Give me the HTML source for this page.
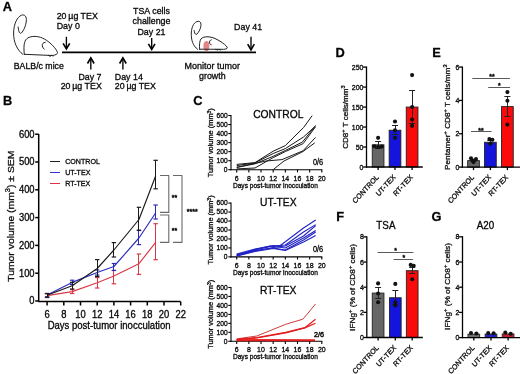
<!DOCTYPE html>
<html><head><meta charset="utf-8"><title>Figure</title>
<style>
html,body{margin:0;padding:0;background:#fff;}
body{width:520px;height:374px;overflow:hidden;}
svg{display:block;font-family:"Liberation Sans", Arial, Helvetica, sans-serif;}
text{stroke:#111;stroke-width:0.3px;}
</style></head>
<body>
<svg width="520" height="374" viewBox="0 0 520 374">
<rect width="520" height="374" fill="#fff"/>
<text x="2.7" y="11.2" font-size="12.8" font-weight="bold" fill="#000">A</text>
<text x="2.9" y="104.9" font-size="12.8" font-weight="bold" fill="#000">B</text>
<text x="193.3" y="105.2" font-size="12.8" font-weight="bold" fill="#000">C</text>
<text x="335.6" y="57.3" font-size="12.8" font-weight="bold" fill="#000">D</text>
<text x="432.3" y="57.3" font-size="12.8" font-weight="bold" fill="#000">E</text>
<text x="336.3" y="220.6" font-size="12.8" font-weight="bold" fill="#000">F</text>
<text x="431.6" y="220.8" font-size="12.8" font-weight="bold" fill="#000">G</text>
<line x1="62.00" y1="52.30" x2="256.00" y2="52.30" stroke="#000" stroke-width="1.8" />
<text x="56.7" y="19.3" font-size="8.85" transform="matrix(1 0 0 1.1 0 -1.930)">20 µg TEX</text>
<text x="56.7" y="29.4" font-size="8.85" transform="matrix(1 0 0 1.1 0 -2.940)">Day 0</text>
<line x1="66.40" y1="36.80" x2="66.40" y2="48.50" stroke="#000" stroke-width="1.35" />
<polyline points="63.10,43.40 66.40,49.00 69.70,43.40" fill="none" stroke="#000" stroke-width="1.6" stroke-linejoin="miter" stroke-miterlimit="3"/>
<text x="13.8" y="69.2" font-size="8.75" transform="matrix(1 0 0 1.1 0 -6.920)">BALB/c mice</text>
<line x1="90.80" y1="58.40" x2="90.80" y2="69.50" stroke="#000" stroke-width="1.35" />
<polyline points="87.50,63.50 90.80,57.90 94.10,63.50" fill="none" stroke="#000" stroke-width="1.6" stroke-linejoin="miter" stroke-miterlimit="3"/>
<line x1="122.90" y1="58.40" x2="122.90" y2="69.50" stroke="#000" stroke-width="1.35" />
<polyline points="119.60,63.50 122.90,57.90 126.20,63.50" fill="none" stroke="#000" stroke-width="1.6" stroke-linejoin="miter" stroke-miterlimit="3"/>
<text x="101.5" y="79.9" font-size="8.85" text-anchor="end" transform="matrix(1 0 0 1.1 0 -7.990)">Day 7</text>
<text x="101.8" y="89.4" font-size="8.85" text-anchor="end" transform="matrix(1 0 0 1.1 0 -8.940)">20 µg TEX</text>
<text x="114.8" y="79.9" font-size="8.85" transform="matrix(1 0 0 1.1 0 -7.990)">Day 14</text>
<text x="114.8" y="89.4" font-size="8.85" transform="matrix(1 0 0 1.1 0 -8.940)">20 µg TEX</text>
<text x="151.5" y="14.0" font-size="8.85" text-anchor="middle" transform="matrix(1 0 0 1.1 0 -1.400)">TSA cells</text>
<text x="151.5" y="24.2" font-size="8.85" text-anchor="middle" transform="matrix(1 0 0 1.1 0 -2.420)">challenge</text>
<text x="151.5" y="34.7" font-size="8.85" text-anchor="middle" transform="matrix(1 0 0 1.1 0 -3.470)">Day 21</text>
<line x1="151.70" y1="38.00" x2="151.70" y2="48.90" stroke="#000" stroke-width="1.35" />
<polyline points="148.40,43.80 151.70,49.40 155.00,43.80" fill="none" stroke="#000" stroke-width="1.6" stroke-linejoin="miter" stroke-miterlimit="3"/>
<text x="248.1" y="29.6" font-size="8.85" text-anchor="middle" transform="matrix(1 0 0 1.1 0 -2.960)">Day 41</text>
<line x1="251.00" y1="36.80" x2="251.00" y2="49.30" stroke="#000" stroke-width="1.35" />
<polyline points="247.70,44.20 251.00,49.80 254.30,44.20" fill="none" stroke="#000" stroke-width="1.6" stroke-linejoin="miter" stroke-miterlimit="3"/>
<text x="212.3" y="69.0" font-size="9.0" text-anchor="middle" transform="matrix(1 0 0 1.1 0 -6.900)">Monitor tumor</text>
<text x="212.3" y="78.6" font-size="8.85" text-anchor="middle" transform="matrix(1 0 0 1.1 0 -7.860)">growth</text>
<g fill="none" stroke="#222" stroke-width="1.0" stroke-linecap="round" stroke-linejoin="round">
<path d="M22.8,54.3 C17,50 13.5,42 13.6,33 C13.8,24 17,17 21.5,15.2 C25,14 26.8,17 26.3,21 C25.8,26 23.5,31 21.3,33 C19.5,34.5 18.5,31 18.2,27"/>
<path d="M24.3,54.3 C23.8,50 23.8,45 24.6,42.5 C25.6,38.5 29,36.6 34,36.4 C40,36.3 45,38.7 50,43 C53.5,46 56.5,49.5 57.6,52.6 C57.6,54 55.5,55.2 52.3,55.5 L24.3,54.3"/>
<path d="M45.3,42.2 C43,42.4 42,44 42.3,46 C42.6,47.5 43.5,48.6 44.3,49.2"/>
<path d="M48.5,55.4 L50.3,56.3 M51.3,55.2 L53,56"/>
</g>
<path d="M206.3,41.0 C208.5,40.6 209.6,43 209.4,46 C209.2,49.2 208.4,51.5 206.4,51.4 C204.3,51.3 203.3,48.6 203.4,45.6 C203.5,42.8 204.4,41.3 206.3,41.0 Z" fill="#e38585"/>
<g fill="none" stroke="#222" stroke-width="1.0" stroke-linecap="round" stroke-linejoin="round">
<path d="M197.6,49.3 C193,46 191,40 191.3,33 C191.6,26 194.5,21.6 198.2,21.3 C200.6,21.2 201.4,23.5 200.8,26.5 C200.2,29.5 198.6,32.5 196.8,34.2 C195.5,35.2 194.4,33 194.1,30.5"/>
<path d="M199.6,49.2 C199.3,45 199.6,41 200.9,39 C202.4,37.2 205,36.7 208,36.8 C212,37 216,38.6 220,41.2 C223.5,43.4 226.3,45.5 227.3,47.5 C227.2,48.8 225.5,49.3 223.5,49.3 L199.6,49.2"/>
<path d="M211.2,39.8 C209.6,40.2 209.2,41.8 209.6,43.2 C209.9,44.2 210.6,44.6 211.2,44.8"/>
<path d="M215.5,49.4 L217.6,49.9 M218.3,49.4 L220.4,49.9"/>
</g>
<line x1="38.70" y1="134.00" x2="38.70" y2="301.60" stroke="#000" stroke-width="1.5" />
<line x1="35.20" y1="301.00" x2="38.70" y2="301.00" stroke="#000" stroke-width="1.5" />
<text x="34.6" y="304.4" font-size="9.4" text-anchor="end" transform="matrix(1 0 0 1.1 0 -30.440)">0</text>
<line x1="35.20" y1="273.20" x2="38.70" y2="273.20" stroke="#000" stroke-width="1.5" />
<text x="34.6" y="276.59999999999997" font-size="9.4" text-anchor="end" transform="matrix(1 0 0 1.1 0 -27.660)">100</text>
<line x1="35.20" y1="245.40" x2="38.70" y2="245.40" stroke="#000" stroke-width="1.5" />
<text x="34.6" y="248.79999999999998" font-size="9.4" text-anchor="end" transform="matrix(1 0 0 1.1 0 -24.880)">200</text>
<line x1="35.20" y1="217.60" x2="38.70" y2="217.60" stroke="#000" stroke-width="1.5" />
<text x="34.6" y="221.0" font-size="9.4" text-anchor="end" transform="matrix(1 0 0 1.1 0 -22.100)">300</text>
<line x1="35.20" y1="189.80" x2="38.70" y2="189.80" stroke="#000" stroke-width="1.5" />
<text x="34.6" y="193.2" font-size="9.4" text-anchor="end" transform="matrix(1 0 0 1.1 0 -19.320)">400</text>
<line x1="35.20" y1="162.00" x2="38.70" y2="162.00" stroke="#000" stroke-width="1.5" />
<text x="34.6" y="165.4" font-size="9.4" text-anchor="end" transform="matrix(1 0 0 1.1 0 -16.540)">500</text>
<line x1="35.20" y1="134.20" x2="38.70" y2="134.20" stroke="#000" stroke-width="1.5" />
<text x="34.6" y="137.6" font-size="9.4" text-anchor="end" transform="matrix(1 0 0 1.1 0 -13.760)">600</text>
<line x1="38.10" y1="301.60" x2="180.60" y2="301.60" stroke="#000" stroke-width="1.5" />
<line x1="47.10" y1="301.60" x2="47.10" y2="305.50" stroke="#000" stroke-width="1.5" />
<text x="47.1" y="318.2" font-size="9.4" text-anchor="middle" transform="matrix(1 0 0 1.1 0 -31.820)">6</text>
<line x1="63.80" y1="301.60" x2="63.80" y2="305.50" stroke="#000" stroke-width="1.5" />
<text x="63.8" y="318.2" font-size="9.4" text-anchor="middle" transform="matrix(1 0 0 1.1 0 -31.820)">8</text>
<line x1="80.50" y1="301.60" x2="80.50" y2="305.50" stroke="#000" stroke-width="1.5" />
<text x="80.5" y="318.2" font-size="9.4" text-anchor="middle" transform="matrix(1 0 0 1.1 0 -31.820)">10</text>
<line x1="97.20" y1="301.60" x2="97.20" y2="305.50" stroke="#000" stroke-width="1.5" />
<text x="97.19999999999999" y="318.2" font-size="9.4" text-anchor="middle" transform="matrix(1 0 0 1.1 0 -31.820)">12</text>
<line x1="113.90" y1="301.60" x2="113.90" y2="305.50" stroke="#000" stroke-width="1.5" />
<text x="113.9" y="318.2" font-size="9.4" text-anchor="middle" transform="matrix(1 0 0 1.1 0 -31.820)">14</text>
<line x1="130.60" y1="301.60" x2="130.60" y2="305.50" stroke="#000" stroke-width="1.5" />
<text x="130.6" y="318.2" font-size="9.4" text-anchor="middle" transform="matrix(1 0 0 1.1 0 -31.820)">16</text>
<line x1="147.30" y1="301.60" x2="147.30" y2="305.50" stroke="#000" stroke-width="1.5" />
<text x="147.29999999999998" y="318.2" font-size="9.4" text-anchor="middle" transform="matrix(1 0 0 1.1 0 -31.820)">18</text>
<line x1="164.00" y1="301.60" x2="164.00" y2="305.50" stroke="#000" stroke-width="1.5" />
<text x="164.0" y="318.2" font-size="9.4" text-anchor="middle" transform="matrix(1 0 0 1.1 0 -31.820)">20</text>
<line x1="180.70" y1="301.60" x2="180.70" y2="305.50" stroke="#000" stroke-width="1.5" />
<text x="180.7" y="318.2" font-size="9.4" text-anchor="middle" transform="matrix(1 0 0 1.1 0 -31.820)">22</text>
<text x="109.1" y="329.5" font-size="9.55" text-anchor="middle" transform="matrix(1 0 0 1.1 0 -32.950)">Days post-tumor inocculation</text>
<text x="14.2" y="216.2" font-size="9.45" text-anchor="middle" fill="#111" transform="matrix(1 0 0 1.1 0 -21.620) rotate(-90 14.2 216.2)">Tumor volume (mm<tspan font-size="6.8" dy="-3.8">3</tspan><tspan dy="3.8">) ± SEM</tspan></text>
<line x1="50.00" y1="161.50" x2="60.00" y2="161.50" stroke="#222" stroke-width="1" />
<line x1="50.00" y1="172.50" x2="60.00" y2="172.50" stroke="#3333cc" stroke-width="1" />
<line x1="50.00" y1="183.50" x2="60.00" y2="183.50" stroke="#dd3344" stroke-width="1" />
<text x="65.2" y="164.4" font-size="7.1" transform="matrix(1 0 0 1.1 0 -16.440)" textLength="34.8" lengthAdjust="spacingAndGlyphs">CONTROL</text>
<text x="65.2" y="175.2" font-size="7.1" transform="matrix(1 0 0 1.1 0 -17.520)">UT-TEX</text>
<text x="65.2" y="186.0" font-size="7.1" transform="matrix(1 0 0 1.1 0 -18.600)">RT-TEX</text>
<polyline points="47.10,295.60 72.15,291.60 97.20,282.70 113.90,276.00 138.95,263.70 155.65,242.40" fill="none" stroke="#d83848" stroke-width="1.15" stroke-linejoin="round" />
<line x1="47.50" y1="293.80" x2="47.50" y2="297.60" stroke="#d83848" stroke-width="1" />
<line x1="44.90" y1="293.80" x2="49.30" y2="293.80" stroke="#d83848" stroke-width="1.2" />
<line x1="44.90" y1="297.60" x2="49.30" y2="297.60" stroke="#d83848" stroke-width="1.2" />
<line x1="72.50" y1="289.70" x2="72.50" y2="293.50" stroke="#d83848" stroke-width="1" />
<line x1="69.95" y1="289.70" x2="74.35" y2="289.70" stroke="#d83848" stroke-width="1.2" />
<line x1="69.95" y1="293.50" x2="74.35" y2="293.50" stroke="#d83848" stroke-width="1.2" />
<line x1="97.50" y1="277.50" x2="97.50" y2="288.00" stroke="#d83848" stroke-width="1" />
<line x1="95.00" y1="277.50" x2="99.40" y2="277.50" stroke="#d83848" stroke-width="1.2" />
<line x1="95.00" y1="288.00" x2="99.40" y2="288.00" stroke="#d83848" stroke-width="1.2" />
<line x1="113.50" y1="270.40" x2="113.50" y2="283.80" stroke="#d83848" stroke-width="1" />
<line x1="111.70" y1="270.40" x2="116.10" y2="270.40" stroke="#d83848" stroke-width="1.2" />
<line x1="111.70" y1="283.80" x2="116.10" y2="283.80" stroke="#d83848" stroke-width="1.2" />
<line x1="138.50" y1="254.00" x2="138.50" y2="274.40" stroke="#d83848" stroke-width="1" />
<line x1="136.75" y1="254.00" x2="141.15" y2="254.00" stroke="#d83848" stroke-width="1.2" />
<line x1="136.75" y1="274.40" x2="141.15" y2="274.40" stroke="#d83848" stroke-width="1.2" />
<line x1="155.50" y1="223.70" x2="155.50" y2="259.70" stroke="#d83848" stroke-width="1" />
<line x1="153.45" y1="223.70" x2="157.85" y2="223.70" stroke="#d83848" stroke-width="1.2" />
<line x1="153.45" y1="259.70" x2="157.85" y2="259.70" stroke="#d83848" stroke-width="1.2" />
<polyline points="47.10,295.00 72.15,282.40 97.20,272.50 113.90,266.50 138.95,238.00 155.65,213.00" fill="none" stroke="#2c2cbc" stroke-width="1.15" stroke-linejoin="round" />
<line x1="47.50" y1="293.40" x2="47.50" y2="296.80" stroke="#2c2cbc" stroke-width="1" />
<line x1="44.90" y1="293.40" x2="49.30" y2="293.40" stroke="#2c2cbc" stroke-width="1.2" />
<line x1="44.90" y1="296.80" x2="49.30" y2="296.80" stroke="#2c2cbc" stroke-width="1.2" />
<line x1="72.50" y1="280.20" x2="72.50" y2="284.60" stroke="#2c2cbc" stroke-width="1" />
<line x1="69.95" y1="280.20" x2="74.35" y2="280.20" stroke="#2c2cbc" stroke-width="1.2" />
<line x1="69.95" y1="284.60" x2="74.35" y2="284.60" stroke="#2c2cbc" stroke-width="1.2" />
<line x1="97.50" y1="270.00" x2="97.50" y2="275.00" stroke="#2c2cbc" stroke-width="1" />
<line x1="95.00" y1="270.00" x2="99.40" y2="270.00" stroke="#2c2cbc" stroke-width="1.2" />
<line x1="95.00" y1="275.00" x2="99.40" y2="275.00" stroke="#2c2cbc" stroke-width="1.2" />
<line x1="113.50" y1="263.50" x2="113.50" y2="270.50" stroke="#2c2cbc" stroke-width="1" />
<line x1="111.70" y1="263.50" x2="116.10" y2="263.50" stroke="#2c2cbc" stroke-width="1.2" />
<line x1="111.70" y1="270.50" x2="116.10" y2="270.50" stroke="#2c2cbc" stroke-width="1.2" />
<line x1="138.50" y1="230.50" x2="138.50" y2="244.60" stroke="#2c2cbc" stroke-width="1" />
<line x1="136.75" y1="230.50" x2="141.15" y2="230.50" stroke="#2c2cbc" stroke-width="1.2" />
<line x1="136.75" y1="244.60" x2="141.15" y2="244.60" stroke="#2c2cbc" stroke-width="1.2" />
<line x1="155.50" y1="205.00" x2="155.50" y2="219.00" stroke="#2c2cbc" stroke-width="1" />
<line x1="153.45" y1="205.00" x2="157.85" y2="205.00" stroke="#2c2cbc" stroke-width="1.2" />
<line x1="153.45" y1="219.00" x2="157.85" y2="219.00" stroke="#2c2cbc" stroke-width="1.2" />
<polyline points="47.10,295.30 72.15,285.80 97.20,268.50 113.90,250.00 138.95,219.50 155.65,176.00" fill="none" stroke="#1a1a1a" stroke-width="1.15" stroke-linejoin="round" />
<line x1="47.50" y1="293.60" x2="47.50" y2="297.20" stroke="#1a1a1a" stroke-width="1" />
<line x1="44.90" y1="293.60" x2="49.30" y2="293.60" stroke="#1a1a1a" stroke-width="1.2" />
<line x1="44.90" y1="297.20" x2="49.30" y2="297.20" stroke="#1a1a1a" stroke-width="1.2" />
<line x1="72.50" y1="282.30" x2="72.50" y2="289.00" stroke="#1a1a1a" stroke-width="1" />
<line x1="69.95" y1="282.30" x2="74.35" y2="282.30" stroke="#1a1a1a" stroke-width="1.2" />
<line x1="69.95" y1="289.00" x2="74.35" y2="289.00" stroke="#1a1a1a" stroke-width="1.2" />
<line x1="97.50" y1="259.60" x2="97.50" y2="276.50" stroke="#1a1a1a" stroke-width="1" />
<line x1="95.00" y1="259.60" x2="99.40" y2="259.60" stroke="#1a1a1a" stroke-width="1.2" />
<line x1="95.00" y1="276.50" x2="99.40" y2="276.50" stroke="#1a1a1a" stroke-width="1.2" />
<line x1="113.50" y1="242.60" x2="113.50" y2="257.00" stroke="#1a1a1a" stroke-width="1" />
<line x1="111.70" y1="242.60" x2="116.10" y2="242.60" stroke="#1a1a1a" stroke-width="1.2" />
<line x1="111.70" y1="257.00" x2="116.10" y2="257.00" stroke="#1a1a1a" stroke-width="1.2" />
<line x1="138.50" y1="207.30" x2="138.50" y2="230.20" stroke="#1a1a1a" stroke-width="1" />
<line x1="136.75" y1="207.30" x2="141.15" y2="207.30" stroke="#1a1a1a" stroke-width="1.2" />
<line x1="136.75" y1="230.20" x2="141.15" y2="230.20" stroke="#1a1a1a" stroke-width="1.2" />
<line x1="155.50" y1="160.30" x2="155.50" y2="188.80" stroke="#1a1a1a" stroke-width="1" />
<line x1="153.45" y1="160.30" x2="157.85" y2="160.30" stroke="#1a1a1a" stroke-width="1.2" />
<line x1="153.45" y1="188.80" x2="157.85" y2="188.80" stroke="#1a1a1a" stroke-width="1.2" />
<polyline points="160.00,175.50 168.80,175.50 168.80,212.40 160.00,212.40" fill="none" stroke="#6a6a6a" stroke-width="1.1" stroke-linejoin="round" stroke-linejoin="miter"/>
<polyline points="160.00,215.00 168.80,215.00 168.80,242.40 160.00,242.40" fill="none" stroke="#6a6a6a" stroke-width="1.1" stroke-linejoin="round" stroke-linejoin="miter"/>
<polyline points="173.00,175.50 182.00,175.50 182.00,242.40 173.00,242.40" fill="none" stroke="#6a6a6a" stroke-width="1.1" stroke-linejoin="round" stroke-linejoin="miter"/>
<text x="174.6" y="199.6" font-size="7" text-anchor="middle" transform="matrix(1 0 0 1.1 0 -19.960)" style="stroke-width:0.45px">**</text>
<text x="174.6" y="233.3" font-size="7" text-anchor="middle" transform="matrix(1 0 0 1.1 0 -23.330)" style="stroke-width:0.45px">**</text>
<text x="192.2" y="213.9" font-size="7" text-anchor="middle" transform="matrix(1 0 0 1.1 0 -21.390)" style="stroke-width:0.45px">****</text>
<line x1="231.00" y1="115.02" x2="231.00" y2="170.20" stroke="#000" stroke-width="1.1" />
<line x1="228.30" y1="169.70" x2="231.00" y2="169.70" stroke="#000" stroke-width="1.1" />
<text x="227.6" y="172.1" font-size="6.7" text-anchor="end" transform="matrix(1 0 0 1.1 0 -17.210)">0</text>
<line x1="228.30" y1="160.67" x2="231.00" y2="160.67" stroke="#000" stroke-width="1.1" />
<text x="227.6" y="163.07" font-size="6.7" text-anchor="end" transform="matrix(1 0 0 1.1 0 -16.307)">100</text>
<line x1="228.30" y1="151.64" x2="231.00" y2="151.64" stroke="#000" stroke-width="1.1" />
<text x="227.6" y="154.04" font-size="6.7" text-anchor="end" transform="matrix(1 0 0 1.1 0 -15.404)">200</text>
<line x1="228.30" y1="142.61" x2="231.00" y2="142.61" stroke="#000" stroke-width="1.1" />
<text x="227.6" y="145.01" font-size="6.7" text-anchor="end" transform="matrix(1 0 0 1.1 0 -14.501)">300</text>
<line x1="228.30" y1="133.58" x2="231.00" y2="133.58" stroke="#000" stroke-width="1.1" />
<text x="227.6" y="135.98" font-size="6.7" text-anchor="end" transform="matrix(1 0 0 1.1 0 -13.598)">400</text>
<line x1="228.30" y1="124.55" x2="231.00" y2="124.55" stroke="#000" stroke-width="1.1" />
<text x="227.6" y="126.94999999999999" font-size="6.7" text-anchor="end" transform="matrix(1 0 0 1.1 0 -12.695)">500</text>
<line x1="228.30" y1="115.52" x2="231.00" y2="115.52" stroke="#000" stroke-width="1.1" />
<text x="227.6" y="117.91999999999999" font-size="6.7" text-anchor="end" transform="matrix(1 0 0 1.1 0 -11.792)">600</text>
<line x1="230.50" y1="169.70" x2="322.32" y2="169.70" stroke="#000" stroke-width="1.1" />
<line x1="236.70" y1="169.70" x2="236.70" y2="172.40" stroke="#000" stroke-width="1.1" />
<text x="236.7" y="180.7" font-size="7.0" text-anchor="middle" transform="matrix(1 0 0 1.1 0 -18.070)">6</text>
<line x1="248.86" y1="169.70" x2="248.86" y2="172.40" stroke="#000" stroke-width="1.1" />
<text x="248.85999999999999" y="180.7" font-size="7.0" text-anchor="middle" transform="matrix(1 0 0 1.1 0 -18.070)">8</text>
<line x1="261.02" y1="169.70" x2="261.02" y2="172.40" stroke="#000" stroke-width="1.1" />
<text x="261.02" y="180.7" font-size="7.0" text-anchor="middle" transform="matrix(1 0 0 1.1 0 -18.070)">10</text>
<line x1="273.18" y1="169.70" x2="273.18" y2="172.40" stroke="#000" stroke-width="1.1" />
<text x="273.18" y="180.7" font-size="7.0" text-anchor="middle" transform="matrix(1 0 0 1.1 0 -18.070)">12</text>
<line x1="285.34" y1="169.70" x2="285.34" y2="172.40" stroke="#000" stroke-width="1.1" />
<text x="285.34" y="180.7" font-size="7.0" text-anchor="middle" transform="matrix(1 0 0 1.1 0 -18.070)">14</text>
<line x1="297.50" y1="169.70" x2="297.50" y2="172.40" stroke="#000" stroke-width="1.1" />
<text x="297.5" y="180.7" font-size="7.0" text-anchor="middle" transform="matrix(1 0 0 1.1 0 -18.070)">16</text>
<line x1="309.66" y1="169.70" x2="309.66" y2="172.40" stroke="#000" stroke-width="1.1" />
<text x="309.65999999999997" y="180.7" font-size="7.0" text-anchor="middle" transform="matrix(1 0 0 1.1 0 -18.070)">18</text>
<line x1="321.82" y1="169.70" x2="321.82" y2="172.40" stroke="#000" stroke-width="1.1" />
<text x="321.82" y="180.7" font-size="7.0" text-anchor="middle" transform="matrix(1 0 0 1.1 0 -18.070)">20</text>
<text x="275.4" y="187.7" font-size="6.6" text-anchor="middle" transform="matrix(1 0 0 1.1 0 -18.770)">Days post-tumor inocculation</text>
<text x="213.2" y="142.7" font-size="6.73" text-anchor="middle" fill="#111" transform="matrix(1 0 0 1.1 0 -14.270) rotate(-90 213.2 142.7)">Tumor volume (mm<tspan font-size="4.6" dy="-2.6">3</tspan><tspan dy="2.6">)</tspan></text>
<text x="278.3" y="117.7" font-size="10.3" text-anchor="middle" transform="matrix(1 0 0 1.1 0 -11.770)">CONTROL</text>
<text x="318.1" y="165.2" font-size="7.4" text-anchor="middle" transform="matrix(1 0 0 1.1 0 -16.520)">0/6</text>
<polyline points="236.70,164.40 255.00,162.60 273.20,151.20 285.30,145.60 303.70,127.40 312.20,115.60" fill="none" stroke="#1a1a1a" stroke-width="1.0" stroke-linejoin="round" />
<polyline points="236.70,165.60 255.00,162.90 273.20,153.50 285.30,148.60 303.50,137.00 315.50,126.00" fill="none" stroke="#1a1a1a" stroke-width="1.0" stroke-linejoin="round" />
<polyline points="236.70,167.50 255.00,163.80 273.20,156.30 285.30,150.50 302.40,142.10 315.50,125.60" fill="none" stroke="#1a1a1a" stroke-width="1.0" stroke-linejoin="round" />
<polyline points="236.70,167.20 255.00,163.40 266.00,161.00 282.00,159.60 303.00,150.80 315.50,137.40" fill="none" stroke="#1a1a1a" stroke-width="1.0" stroke-linejoin="round" />
<polyline points="236.70,168.90 255.00,168.00 273.20,157.60 285.30,151.60 303.20,143.60 315.50,126.80" fill="none" stroke="#1a1a1a" stroke-width="1.0" stroke-linejoin="round" />
<polyline points="273.50,169.40 284.00,161.00 303.00,151.50 314.80,142.80" fill="none" stroke="#1a1a1a" stroke-width="1.0" stroke-linejoin="round" />
<line x1="231.00" y1="202.58" x2="231.00" y2="257.40" stroke="#000" stroke-width="1.1" />
<line x1="228.30" y1="256.90" x2="231.00" y2="256.90" stroke="#000" stroke-width="1.1" />
<text x="227.6" y="259.29999999999995" font-size="6.7" text-anchor="end" transform="matrix(1 0 0 1.1 0 -25.930)">0</text>
<line x1="228.30" y1="247.93" x2="231.00" y2="247.93" stroke="#000" stroke-width="1.1" />
<text x="227.6" y="250.32999999999998" font-size="6.7" text-anchor="end" transform="matrix(1 0 0 1.1 0 -25.033)">100</text>
<line x1="228.30" y1="238.96" x2="231.00" y2="238.96" stroke="#000" stroke-width="1.1" />
<text x="227.6" y="241.35999999999999" font-size="6.7" text-anchor="end" transform="matrix(1 0 0 1.1 0 -24.136)">200</text>
<line x1="228.30" y1="229.99" x2="231.00" y2="229.99" stroke="#000" stroke-width="1.1" />
<text x="227.6" y="232.39" font-size="6.7" text-anchor="end" transform="matrix(1 0 0 1.1 0 -23.239)">300</text>
<line x1="228.30" y1="221.02" x2="231.00" y2="221.02" stroke="#000" stroke-width="1.1" />
<text x="227.6" y="223.42" font-size="6.7" text-anchor="end" transform="matrix(1 0 0 1.1 0 -22.342)">400</text>
<line x1="228.30" y1="212.05" x2="231.00" y2="212.05" stroke="#000" stroke-width="1.1" />
<text x="227.6" y="214.45" font-size="6.7" text-anchor="end" transform="matrix(1 0 0 1.1 0 -21.445)">500</text>
<line x1="228.30" y1="203.08" x2="231.00" y2="203.08" stroke="#000" stroke-width="1.1" />
<text x="227.6" y="205.48" font-size="6.7" text-anchor="end" transform="matrix(1 0 0 1.1 0 -20.548)">600</text>
<line x1="230.50" y1="256.90" x2="322.32" y2="256.90" stroke="#000" stroke-width="1.1" />
<line x1="236.70" y1="256.90" x2="236.70" y2="259.60" stroke="#000" stroke-width="1.1" />
<text x="236.7" y="267.9" font-size="7.0" text-anchor="middle" transform="matrix(1 0 0 1.1 0 -26.790)">6</text>
<line x1="248.86" y1="256.90" x2="248.86" y2="259.60" stroke="#000" stroke-width="1.1" />
<text x="248.85999999999999" y="267.9" font-size="7.0" text-anchor="middle" transform="matrix(1 0 0 1.1 0 -26.790)">8</text>
<line x1="261.02" y1="256.90" x2="261.02" y2="259.60" stroke="#000" stroke-width="1.1" />
<text x="261.02" y="267.9" font-size="7.0" text-anchor="middle" transform="matrix(1 0 0 1.1 0 -26.790)">10</text>
<line x1="273.18" y1="256.90" x2="273.18" y2="259.60" stroke="#000" stroke-width="1.1" />
<text x="273.18" y="267.9" font-size="7.0" text-anchor="middle" transform="matrix(1 0 0 1.1 0 -26.790)">12</text>
<line x1="285.34" y1="256.90" x2="285.34" y2="259.60" stroke="#000" stroke-width="1.1" />
<text x="285.34" y="267.9" font-size="7.0" text-anchor="middle" transform="matrix(1 0 0 1.1 0 -26.790)">14</text>
<line x1="297.50" y1="256.90" x2="297.50" y2="259.60" stroke="#000" stroke-width="1.1" />
<text x="297.5" y="267.9" font-size="7.0" text-anchor="middle" transform="matrix(1 0 0 1.1 0 -26.790)">16</text>
<line x1="309.66" y1="256.90" x2="309.66" y2="259.60" stroke="#000" stroke-width="1.1" />
<text x="309.65999999999997" y="267.9" font-size="7.0" text-anchor="middle" transform="matrix(1 0 0 1.1 0 -26.790)">18</text>
<line x1="321.82" y1="256.90" x2="321.82" y2="259.60" stroke="#000" stroke-width="1.1" />
<text x="321.82" y="267.9" font-size="7.0" text-anchor="middle" transform="matrix(1 0 0 1.1 0 -26.790)">20</text>
<text x="275.4" y="274.9" font-size="6.6" text-anchor="middle" transform="matrix(1 0 0 1.1 0 -27.490)">Days post-tumor inocculation</text>
<text x="213.2" y="229.9" font-size="6.73" text-anchor="middle" fill="#111" transform="matrix(1 0 0 1.1 0 -22.990) rotate(-90 213.2 229.9)">Tumor volume (mm<tspan font-size="4.6" dy="-2.6">3</tspan><tspan dy="2.6">)</tspan></text>
<text x="278.3" y="206.0" font-size="10.3" text-anchor="middle" transform="matrix(1 0 0 1.1 0 -20.600)">UT-TEX</text>
<text x="318.1" y="252.39999999999998" font-size="7.4" text-anchor="middle" transform="matrix(1 0 0 1.1 0 -25.240)">0/6</text>
<polyline points="236.70,254.00 255.00,249.00 273.20,245.50 279.00,246.50 303.50,228.00 315.70,220.00" fill="none" stroke="#2222c4" stroke-width="1.1" stroke-linejoin="round" />
<polyline points="236.70,255.00 255.00,250.00 273.20,246.00 285.30,245.00 303.50,232.00 315.70,224.60" fill="none" stroke="#2222c4" stroke-width="1.1" stroke-linejoin="round" />
<polyline points="236.70,256.00 255.00,251.00 273.20,247.50 285.30,246.00 303.50,236.00 315.70,225.60" fill="none" stroke="#2222c4" stroke-width="1.1" stroke-linejoin="round" />
<polyline points="236.70,255.50 255.00,249.50 270.00,246.00 285.30,248.00 303.50,238.00 315.70,230.50" fill="none" stroke="#2222c4" stroke-width="1.1" stroke-linejoin="round" />
<polyline points="236.70,254.50 255.00,250.50 273.20,248.00 285.30,250.00 303.50,240.00 315.70,232.00" fill="none" stroke="#2222c4" stroke-width="1.1" stroke-linejoin="round" />
<polyline points="236.70,256.00 255.00,251.50 273.20,248.50 285.30,250.50 303.50,242.00 315.70,235.40" fill="none" stroke="#2222c4" stroke-width="1.1" stroke-linejoin="round" />
<line x1="231.00" y1="286.98" x2="231.00" y2="341.80" stroke="#000" stroke-width="1.1" />
<line x1="228.30" y1="341.30" x2="231.00" y2="341.30" stroke="#000" stroke-width="1.1" />
<text x="227.6" y="343.7" font-size="6.7" text-anchor="end" transform="matrix(1 0 0 1.1 0 -34.370)">0</text>
<line x1="228.30" y1="332.33" x2="231.00" y2="332.33" stroke="#000" stroke-width="1.1" />
<text x="227.6" y="334.72999999999996" font-size="6.7" text-anchor="end" transform="matrix(1 0 0 1.1 0 -33.473)">100</text>
<line x1="228.30" y1="323.36" x2="231.00" y2="323.36" stroke="#000" stroke-width="1.1" />
<text x="227.6" y="325.76" font-size="6.7" text-anchor="end" transform="matrix(1 0 0 1.1 0 -32.576)">200</text>
<line x1="228.30" y1="314.39" x2="231.00" y2="314.39" stroke="#000" stroke-width="1.1" />
<text x="227.6" y="316.78999999999996" font-size="6.7" text-anchor="end" transform="matrix(1 0 0 1.1 0 -31.679)">300</text>
<line x1="228.30" y1="305.42" x2="231.00" y2="305.42" stroke="#000" stroke-width="1.1" />
<text x="227.6" y="307.82" font-size="6.7" text-anchor="end" transform="matrix(1 0 0 1.1 0 -30.782)">400</text>
<line x1="228.30" y1="296.45" x2="231.00" y2="296.45" stroke="#000" stroke-width="1.1" />
<text x="227.6" y="298.84999999999997" font-size="6.7" text-anchor="end" transform="matrix(1 0 0 1.1 0 -29.885)">500</text>
<line x1="228.30" y1="287.48" x2="231.00" y2="287.48" stroke="#000" stroke-width="1.1" />
<text x="227.6" y="289.88" font-size="6.7" text-anchor="end" transform="matrix(1 0 0 1.1 0 -28.988)">600</text>
<line x1="230.50" y1="341.30" x2="322.32" y2="341.30" stroke="#000" stroke-width="1.1" />
<line x1="236.70" y1="341.30" x2="236.70" y2="344.00" stroke="#000" stroke-width="1.1" />
<text x="236.7" y="351.8" font-size="7.0" text-anchor="middle" transform="matrix(1 0 0 1.1 0 -35.180)">6</text>
<line x1="248.86" y1="341.30" x2="248.86" y2="344.00" stroke="#000" stroke-width="1.1" />
<text x="248.85999999999999" y="351.8" font-size="7.0" text-anchor="middle" transform="matrix(1 0 0 1.1 0 -35.180)">8</text>
<line x1="261.02" y1="341.30" x2="261.02" y2="344.00" stroke="#000" stroke-width="1.1" />
<text x="261.02" y="351.8" font-size="7.0" text-anchor="middle" transform="matrix(1 0 0 1.1 0 -35.180)">10</text>
<line x1="273.18" y1="341.30" x2="273.18" y2="344.00" stroke="#000" stroke-width="1.1" />
<text x="273.18" y="351.8" font-size="7.0" text-anchor="middle" transform="matrix(1 0 0 1.1 0 -35.180)">12</text>
<line x1="285.34" y1="341.30" x2="285.34" y2="344.00" stroke="#000" stroke-width="1.1" />
<text x="285.34" y="351.8" font-size="7.0" text-anchor="middle" transform="matrix(1 0 0 1.1 0 -35.180)">14</text>
<line x1="297.50" y1="341.30" x2="297.50" y2="344.00" stroke="#000" stroke-width="1.1" />
<text x="297.5" y="351.8" font-size="7.0" text-anchor="middle" transform="matrix(1 0 0 1.1 0 -35.180)">16</text>
<line x1="309.66" y1="341.30" x2="309.66" y2="344.00" stroke="#000" stroke-width="1.1" />
<text x="309.65999999999997" y="351.8" font-size="7.0" text-anchor="middle" transform="matrix(1 0 0 1.1 0 -35.180)">18</text>
<line x1="321.82" y1="341.30" x2="321.82" y2="344.00" stroke="#000" stroke-width="1.1" />
<text x="321.82" y="351.8" font-size="7.0" text-anchor="middle" transform="matrix(1 0 0 1.1 0 -35.180)">20</text>
<text x="275.4" y="358.8" font-size="6.6" text-anchor="middle" transform="matrix(1 0 0 1.1 0 -35.880)">Days post-tumor inocculation</text>
<text x="213.2" y="314.3" font-size="6.73" text-anchor="middle" fill="#111" transform="matrix(1 0 0 1.1 0 -31.430) rotate(-90 213.2 314.3)">Tumor volume (mm<tspan font-size="4.6" dy="-2.6">3</tspan><tspan dy="2.6">)</tspan></text>
<text x="278.3" y="293.6" font-size="10.3" text-anchor="middle" transform="matrix(1 0 0 1.1 0 -29.360)">RT-TEX</text>
<text x="319.0" y="337.0" font-size="7.2" text-anchor="middle" transform="matrix(1 0 0 1.1 0 -33.700)" style="stroke-width:0.45px">2/6</text>
<polyline points="236.70,338.90 256.80,336.00 285.70,324.30 302.80,319.20 306.50,315.00 315.50,304.00" fill="none" stroke="#d03a3a" stroke-width="1.0" stroke-linejoin="round" />
<polyline points="236.70,339.40 256.80,337.60 285.70,332.30 304.90,327.70 315.50,319.20" fill="none" stroke="#e41c1c" stroke-width="1.2" stroke-linejoin="round" />
<polyline points="236.70,339.60 256.80,338.00 285.70,332.80 304.90,327.90 315.50,323.30" fill="none" stroke="#e41c1c" stroke-width="1.2" stroke-linejoin="round" />
<polyline points="236.70,340.20 315.00,340.20" fill="none" stroke="#e41c1c" stroke-width="1.3" stroke-linejoin="round" />
<polyline points="236.70,340.60 315.00,340.60" fill="none" stroke="#e41c1c" stroke-width="1.3" stroke-linejoin="round" />
<polyline points="236.70,340.00 256.80,339.60 315.00,340.00" fill="none" stroke="#e41c1c" stroke-width="1.0" stroke-linejoin="round" />
<rect x="372.25" y="144.82" width="11.70" height="22.18" fill="#666666" stroke="#222" stroke-width="0.9"/>
<rect x="389.15" y="130.24" width="11.70" height="36.76" fill="#1414dc" stroke="#222" stroke-width="0.9"/>
<rect x="406.25" y="107.06" width="11.70" height="59.94" fill="#fa0a0a" stroke="#222" stroke-width="0.9"/>
<line x1="378.50" y1="141.03" x2="378.50" y2="148.62" stroke="#222" stroke-width="1.0" />
<line x1="375.10" y1="141.50" x2="381.10" y2="141.50" stroke="#222" stroke-width="1.0" />
<line x1="375.10" y1="148.50" x2="381.10" y2="148.50" stroke="#222" stroke-width="1.0" />
<circle cx="378.10" cy="137.83" r="2.05" fill="#111"/>
<circle cx="374.30" cy="146.22" r="2.05" fill="#111"/>
<circle cx="378.10" cy="147.02" r="2.05" fill="#111"/>
<circle cx="381.90" cy="146.62" r="2.05" fill="#111"/>
<line x1="395.50" y1="125.84" x2="395.50" y2="134.63" stroke="#222" stroke-width="1.0" />
<line x1="392.00" y1="125.50" x2="398.00" y2="125.50" stroke="#222" stroke-width="1.0" />
<line x1="392.00" y1="134.50" x2="398.00" y2="134.50" stroke="#222" stroke-width="1.0" />
<circle cx="395.00" cy="121.45" r="2.05" fill="#111"/>
<circle cx="395.00" cy="130.24" r="2.05" fill="#111"/>
<circle cx="395.00" cy="137.83" r="2.05" fill="#111"/>
<line x1="412.50" y1="90.28" x2="412.50" y2="123.84" stroke="#222" stroke-width="1.0" />
<line x1="409.10" y1="90.50" x2="415.10" y2="90.50" stroke="#222" stroke-width="1.0" />
<line x1="409.10" y1="123.50" x2="415.10" y2="123.50" stroke="#222" stroke-width="1.0" />
<circle cx="412.10" cy="75.09" r="2.05" fill="#111"/>
<circle cx="412.10" cy="119.45" r="2.05" fill="#111"/>
<circle cx="412.10" cy="125.84" r="2.05" fill="#111"/>
<circle cx="412.10" cy="107.06" r="2.05" fill="#111"/>
<line x1="366.50" y1="66.50" x2="366.50" y2="167.60" stroke="#000" stroke-width="1.3" />
<line x1="363.10" y1="167.00" x2="366.50" y2="167.00" stroke="#000" stroke-width="1.3" />
<text x="363.5" y="169.6" font-size="7.0" text-anchor="end" transform="matrix(1 0 0 1.1 0 -16.960)">0</text>
<line x1="363.10" y1="147.02" x2="366.50" y2="147.02" stroke="#000" stroke-width="1.3" />
<text x="363.5" y="149.62" font-size="7.0" text-anchor="end" transform="matrix(1 0 0 1.1 0 -14.962)">50</text>
<line x1="363.10" y1="127.04" x2="366.50" y2="127.04" stroke="#000" stroke-width="1.3" />
<text x="363.5" y="129.64" font-size="7.0" text-anchor="end" transform="matrix(1 0 0 1.1 0 -12.964)">100</text>
<line x1="363.10" y1="107.06" x2="366.50" y2="107.06" stroke="#000" stroke-width="1.3" />
<text x="363.5" y="109.66" font-size="7.0" text-anchor="end" transform="matrix(1 0 0 1.1 0 -10.966)">150</text>
<line x1="363.10" y1="87.08" x2="366.50" y2="87.08" stroke="#000" stroke-width="1.3" />
<text x="363.5" y="89.67999999999999" font-size="7.0" text-anchor="end" transform="matrix(1 0 0 1.1 0 -8.968)">200</text>
<line x1="363.10" y1="67.10" x2="366.50" y2="67.10" stroke="#000" stroke-width="1.3" />
<text x="363.5" y="69.69999999999999" font-size="7.0" text-anchor="end" transform="matrix(1 0 0 1.1 0 -6.970)">250</text>
<line x1="365.90" y1="167.00" x2="422.80" y2="167.00" stroke="#000" stroke-width="1.3" />
<line x1="378.10" y1="167.00" x2="378.10" y2="170.00" stroke="#000" stroke-width="1.3" />
<line x1="395.00" y1="167.00" x2="395.00" y2="170.00" stroke="#000" stroke-width="1.3" />
<line x1="412.10" y1="167.00" x2="412.10" y2="170.00" stroke="#000" stroke-width="1.3" />
<text x="379.20000000000005" y="177.7" font-size="6.9" text-anchor="end" transform="matrix(1 0 0 1.1 0 -17.770) rotate(-45 379.20000000000005 177.7)">CONTROL</text>
<text x="396.1" y="177.7" font-size="6.9" text-anchor="end" transform="matrix(1 0 0 1.1 0 -17.770) rotate(-45 396.1 177.7)">UT-TEX</text>
<text x="413.20000000000005" y="177.7" font-size="6.9" text-anchor="end" transform="matrix(1 0 0 1.1 0 -17.770) rotate(-45 413.20000000000005 177.7)">RT-TEX</text>
<text x="347.7" y="117.1" font-size="7.36" text-anchor="middle" fill="#111" transform="matrix(1 0 0 1.1 0 -11.710) rotate(-90 347.7 117.1)">CD8<tspan font-size="5.02" dy="-2.92">+</tspan><tspan dy="2.92"> T cells/mm</tspan><tspan font-size="5.02" dy="-2.92">3</tspan><tspan dy="2.92"></tspan></text>
<rect x="467.65" y="160.60" width="11.70" height="6.50" fill="#666666" stroke="#222" stroke-width="0.9"/>
<rect x="484.55" y="142.26" width="11.70" height="24.84" fill="#1414dc" stroke="#222" stroke-width="0.9"/>
<rect x="501.55" y="106.59" width="11.70" height="60.51" fill="#fa0a0a" stroke="#222" stroke-width="0.9"/>
<line x1="473.50" y1="159.77" x2="473.50" y2="161.43" stroke="#222" stroke-width="1.0" />
<line x1="470.50" y1="159.50" x2="476.50" y2="159.50" stroke="#222" stroke-width="1.0" />
<line x1="470.50" y1="161.50" x2="476.50" y2="161.50" stroke="#222" stroke-width="1.0" />
<circle cx="471.00" cy="158.26" r="2.05" fill="#111"/>
<circle cx="476.00" cy="159.10" r="2.05" fill="#111"/>
<circle cx="473.50" cy="162.10" r="2.05" fill="#111"/>
<circle cx="472.50" cy="160.43" r="2.05" fill="#111"/>
<line x1="490.50" y1="140.93" x2="490.50" y2="143.60" stroke="#222" stroke-width="1.0" />
<line x1="487.40" y1="140.50" x2="493.40" y2="140.50" stroke="#222" stroke-width="1.0" />
<line x1="487.40" y1="143.50" x2="493.40" y2="143.50" stroke="#222" stroke-width="1.0" />
<circle cx="489.40" cy="139.09" r="2.05" fill="#111"/>
<circle cx="492.40" cy="139.76" r="2.05" fill="#111"/>
<circle cx="490.40" cy="143.76" r="2.05" fill="#111"/>
<line x1="507.50" y1="96.92" x2="507.50" y2="116.26" stroke="#222" stroke-width="1.0" />
<line x1="504.40" y1="96.50" x2="510.40" y2="96.50" stroke="#222" stroke-width="1.0" />
<line x1="504.40" y1="116.50" x2="510.40" y2="116.50" stroke="#222" stroke-width="1.0" />
<circle cx="507.40" cy="92.08" r="2.05" fill="#111"/>
<circle cx="507.40" cy="100.75" r="2.05" fill="#111"/>
<circle cx="507.40" cy="124.59" r="2.05" fill="#111"/>
<line x1="462.40" y1="66.48" x2="462.40" y2="167.70" stroke="#000" stroke-width="1.3" />
<line x1="459.00" y1="167.10" x2="462.40" y2="167.10" stroke="#000" stroke-width="1.3" />
<text x="459.4" y="169.7" font-size="7.0" text-anchor="end" transform="matrix(1 0 0 1.1 0 -16.970)">0</text>
<line x1="459.00" y1="133.76" x2="462.40" y2="133.76" stroke="#000" stroke-width="1.3" />
<text x="459.4" y="136.35999999999999" font-size="7.0" text-anchor="end" transform="matrix(1 0 0 1.1 0 -13.636)">2</text>
<line x1="459.00" y1="100.42" x2="462.40" y2="100.42" stroke="#000" stroke-width="1.3" />
<text x="459.4" y="103.01999999999998" font-size="7.0" text-anchor="end" transform="matrix(1 0 0 1.1 0 -10.302)">4</text>
<line x1="459.00" y1="67.08" x2="462.40" y2="67.08" stroke="#000" stroke-width="1.3" />
<text x="459.4" y="69.67999999999998" font-size="7.0" text-anchor="end" transform="matrix(1 0 0 1.1 0 -6.968)">6</text>
<line x1="461.80" y1="167.10" x2="520.00" y2="167.10" stroke="#000" stroke-width="1.3" />
<line x1="473.50" y1="167.10" x2="473.50" y2="170.10" stroke="#000" stroke-width="1.3" />
<line x1="490.40" y1="167.10" x2="490.40" y2="170.10" stroke="#000" stroke-width="1.3" />
<line x1="507.40" y1="167.10" x2="507.40" y2="170.10" stroke="#000" stroke-width="1.3" />
<text x="474.6" y="177.79999999999998" font-size="6.9" text-anchor="end" transform="matrix(1 0 0 1.1 0 -17.780) rotate(-45 474.6 177.79999999999998)">CONTROL</text>
<text x="491.5" y="177.79999999999998" font-size="6.9" text-anchor="end" transform="matrix(1 0 0 1.1 0 -17.780) rotate(-45 491.5 177.79999999999998)">UT-TEX</text>
<text x="508.5" y="177.79999999999998" font-size="6.9" text-anchor="end" transform="matrix(1 0 0 1.1 0 -17.780) rotate(-45 508.5 177.79999999999998)">RT-TEX</text>
<text x="450.3" y="117.2" font-size="7.45" text-anchor="middle" fill="#111" transform="matrix(1 0 0 1.1 0 -11.720) rotate(-90 450.3 117.2)">Pentamer<tspan font-size="5.08" dy="-2.95">+</tspan><tspan dy="2.95"> CD8</tspan><tspan font-size="5.08" dy="-2.95">+</tspan><tspan dy="2.95"> T cells/mm</tspan><tspan font-size="5.08" dy="-2.95">3</tspan><tspan dy="2.95"></tspan></text>
<rect x="372.25" y="293.09" width="11.70" height="44.41" fill="#666666" stroke="#222" stroke-width="0.9"/>
<rect x="389.45" y="297.75" width="11.70" height="39.75" fill="#1414dc" stroke="#222" stroke-width="0.9"/>
<rect x="406.35" y="270.70" width="11.70" height="66.80" fill="#fa0a0a" stroke="#222" stroke-width="0.9"/>
<line x1="378.50" y1="287.43" x2="378.50" y2="298.75" stroke="#222" stroke-width="1.0" />
<line x1="375.10" y1="287.50" x2="381.10" y2="287.50" stroke="#222" stroke-width="1.0" />
<line x1="375.10" y1="298.50" x2="381.10" y2="298.50" stroke="#222" stroke-width="1.0" />
<circle cx="378.10" cy="283.41" r="2.05" fill="#111"/>
<circle cx="378.10" cy="302.28" r="2.05" fill="#111"/>
<circle cx="378.10" cy="293.47" r="2.05" fill="#111"/>
<line x1="395.50" y1="290.83" x2="395.50" y2="304.67" stroke="#222" stroke-width="1.0" />
<line x1="392.30" y1="290.50" x2="398.30" y2="290.50" stroke="#222" stroke-width="1.0" />
<line x1="392.30" y1="304.50" x2="398.30" y2="304.50" stroke="#222" stroke-width="1.0" />
<circle cx="395.30" cy="283.91" r="2.05" fill="#111"/>
<circle cx="395.30" cy="302.28" r="2.05" fill="#111"/>
<circle cx="395.30" cy="305.42" r="2.05" fill="#111"/>
<line x1="412.50" y1="267.93" x2="412.50" y2="273.47" stroke="#222" stroke-width="1.0" />
<line x1="409.20" y1="267.50" x2="415.20" y2="267.50" stroke="#222" stroke-width="1.0" />
<line x1="409.20" y1="273.50" x2="415.20" y2="273.50" stroke="#222" stroke-width="1.0" />
<circle cx="410.70" cy="264.91" r="2.05" fill="#111"/>
<circle cx="413.70" cy="265.79" r="2.05" fill="#111"/>
<circle cx="412.20" cy="279.25" r="2.05" fill="#111"/>
<line x1="366.80" y1="236.26" x2="366.80" y2="338.10" stroke="#000" stroke-width="1.3" />
<line x1="363.40" y1="337.50" x2="366.80" y2="337.50" stroke="#000" stroke-width="1.3" />
<text x="363.8" y="340.1" font-size="7.0" text-anchor="end" transform="matrix(1 0 0 1.1 0 -34.010)">0</text>
<line x1="363.40" y1="312.34" x2="366.80" y2="312.34" stroke="#000" stroke-width="1.3" />
<text x="363.8" y="314.94" font-size="7.0" text-anchor="end" transform="matrix(1 0 0 1.1 0 -31.494)">2</text>
<line x1="363.40" y1="287.18" x2="366.80" y2="287.18" stroke="#000" stroke-width="1.3" />
<text x="363.8" y="289.78000000000003" font-size="7.0" text-anchor="end" transform="matrix(1 0 0 1.1 0 -28.978)">4</text>
<line x1="363.40" y1="262.02" x2="366.80" y2="262.02" stroke="#000" stroke-width="1.3" />
<text x="363.8" y="264.62" font-size="7.0" text-anchor="end" transform="matrix(1 0 0 1.1 0 -26.462)">6</text>
<line x1="363.40" y1="236.86" x2="366.80" y2="236.86" stroke="#000" stroke-width="1.3" />
<text x="363.8" y="239.46" font-size="7.0" text-anchor="end" transform="matrix(1 0 0 1.1 0 -23.946)">8</text>
<line x1="366.20" y1="337.50" x2="422.80" y2="337.50" stroke="#000" stroke-width="1.3" />
<line x1="378.10" y1="337.50" x2="378.10" y2="340.50" stroke="#000" stroke-width="1.3" />
<line x1="395.30" y1="337.50" x2="395.30" y2="340.50" stroke="#000" stroke-width="1.3" />
<line x1="412.20" y1="337.50" x2="412.20" y2="340.50" stroke="#000" stroke-width="1.3" />
<text x="379.20000000000005" y="348.2" font-size="6.9" text-anchor="end" transform="matrix(1 0 0 1.1 0 -34.820) rotate(-45 379.20000000000005 348.2)">CONTROL</text>
<text x="396.40000000000003" y="348.2" font-size="6.9" text-anchor="end" transform="matrix(1 0 0 1.1 0 -34.820) rotate(-45 396.40000000000003 348.2)">UT-TEX</text>
<text x="413.3" y="348.2" font-size="6.9" text-anchor="end" transform="matrix(1 0 0 1.1 0 -34.820) rotate(-45 413.3 348.2)">RT-TEX</text>
<text x="355.0" y="287.5" font-size="7.55" text-anchor="middle" fill="#111" transform="matrix(1 0 0 1.1 0 -28.750) rotate(-90 355.0 287.5)">IFNg<tspan font-size="5.15" dy="-2.99">+</tspan><tspan dy="2.99"> (% of CD8</tspan><tspan font-size="5.15" dy="-2.99">+</tspan><tspan dy="2.99"> cells)</tspan></text>
<rect x="467.95" y="334.20" width="11.70" height="3.40" fill="#707070" stroke="#222" stroke-width="0.9"/>
<rect x="485.15" y="334.07" width="11.70" height="3.53" fill="#2020c0" stroke="#222" stroke-width="0.9"/>
<rect x="502.25" y="333.95" width="11.70" height="3.65" fill="#c41e30" stroke="#222" stroke-width="0.9"/>
<circle cx="471.00" cy="333.06" r="2.05" fill="#111"/>
<circle cx="476.40" cy="333.44" r="2.05" fill="#111"/>
<circle cx="488.20" cy="332.94" r="2.05" fill="#111"/>
<circle cx="493.60" cy="333.32" r="2.05" fill="#111"/>
<circle cx="505.30" cy="332.56" r="2.05" fill="#111"/>
<circle cx="510.70" cy="333.82" r="2.05" fill="#111"/>
<line x1="462.50" y1="236.20" x2="462.50" y2="338.20" stroke="#000" stroke-width="1.3" />
<line x1="459.10" y1="337.60" x2="462.50" y2="337.60" stroke="#000" stroke-width="1.3" />
<text x="459.5" y="340.20000000000005" font-size="7.0" text-anchor="end" transform="matrix(1 0 0 1.1 0 -34.020)">0</text>
<line x1="459.10" y1="312.40" x2="462.50" y2="312.40" stroke="#000" stroke-width="1.3" />
<text x="459.5" y="315.00000000000006" font-size="7.0" text-anchor="end" transform="matrix(1 0 0 1.1 0 -31.500)">2</text>
<line x1="459.10" y1="287.20" x2="462.50" y2="287.20" stroke="#000" stroke-width="1.3" />
<text x="459.5" y="289.80000000000007" font-size="7.0" text-anchor="end" transform="matrix(1 0 0 1.1 0 -28.980)">4</text>
<line x1="459.10" y1="262.00" x2="462.50" y2="262.00" stroke="#000" stroke-width="1.3" />
<text x="459.5" y="264.6" font-size="7.0" text-anchor="end" transform="matrix(1 0 0 1.1 0 -26.460)">6</text>
<line x1="459.10" y1="236.80" x2="462.50" y2="236.80" stroke="#000" stroke-width="1.3" />
<text x="459.5" y="239.4" font-size="7.0" text-anchor="end" transform="matrix(1 0 0 1.1 0 -23.940)">8</text>
<line x1="461.90" y1="337.60" x2="520.00" y2="337.60" stroke="#000" stroke-width="1.3" />
<line x1="473.80" y1="337.60" x2="473.80" y2="340.60" stroke="#000" stroke-width="1.3" />
<line x1="491.00" y1="337.60" x2="491.00" y2="340.60" stroke="#000" stroke-width="1.3" />
<line x1="508.10" y1="337.60" x2="508.10" y2="340.60" stroke="#000" stroke-width="1.3" />
<text x="474.90000000000003" y="348.3" font-size="6.9" text-anchor="end" transform="matrix(1 0 0 1.1 0 -34.830) rotate(-45 474.90000000000003 348.3)">CONTROL</text>
<text x="492.1" y="348.3" font-size="6.9" text-anchor="end" transform="matrix(1 0 0 1.1 0 -34.830) rotate(-45 492.1 348.3)">UT-TEX</text>
<text x="509.20000000000005" y="348.3" font-size="6.9" text-anchor="end" transform="matrix(1 0 0 1.1 0 -34.830) rotate(-45 509.20000000000005 348.3)">RT-TEX</text>
<text x="449.9" y="286.5" font-size="7.55" text-anchor="middle" fill="#111" transform="matrix(1 0 0 1.1 0 -28.650) rotate(-90 449.9 286.5)">IFNg<tspan font-size="5.15" dy="-2.99">+</tspan><tspan dy="2.99"> (% of CD8</tspan><tspan font-size="5.15" dy="-2.99">+</tspan><tspan dy="2.99"> cells)</tspan></text>
<text x="385.9" y="228.7" font-size="9.8" text-anchor="middle" transform="matrix(1 0 0 1.1 0 -22.870)">TSA</text>
<text x="485.5" y="228.7" font-size="9.8" text-anchor="middle" transform="matrix(1 0 0 1.1 0 -22.870)">A20</text>
<line x1="472.30" y1="78.50" x2="509.90" y2="78.50" stroke="#5a5a5a" stroke-width="1.0" />
<text x="491.9" y="79.4" font-size="7" text-anchor="middle" transform="matrix(1 0 0 1.1 0 -7.940)" style="stroke-width:0.45px">**</text>
<line x1="488.20" y1="87.50" x2="510.10" y2="87.50" stroke="#5a5a5a" stroke-width="1.0" />
<text x="499.4" y="88.5" font-size="7" text-anchor="middle" transform="matrix(1 0 0 1.1 0 -8.850)" style="stroke-width:0.45px">*</text>
<line x1="471.00" y1="131.50" x2="491.60" y2="131.50" stroke="#5a5a5a" stroke-width="1.0" />
<text x="480.9" y="132.8" font-size="7" text-anchor="middle" transform="matrix(1 0 0 1.1 0 -13.280)" style="stroke-width:0.45px">**</text>
<line x1="377.60" y1="252.50" x2="413.40" y2="252.50" stroke="#5a5a5a" stroke-width="1.0" />
<text x="395.6" y="253.0" font-size="7" text-anchor="middle" transform="matrix(1 0 0 1.1 0 -25.300)" style="stroke-width:0.45px">*</text>
<line x1="393.60" y1="259.50" x2="413.10" y2="259.50" stroke="#5a5a5a" stroke-width="1.0" />
<text x="403.9" y="260.1" font-size="7" text-anchor="middle" transform="matrix(1 0 0 1.1 0 -26.010)" style="stroke-width:0.45px">*</text>
</svg>
</body></html>
